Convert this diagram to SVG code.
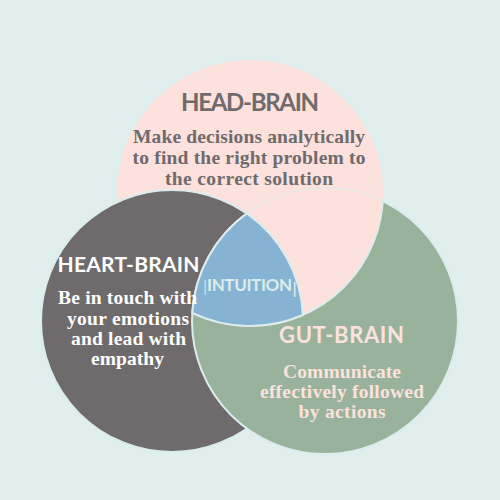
<svg xmlns="http://www.w3.org/2000/svg" width="500" height="500" viewBox="0 0 500 500">
  <style>
    .h { font-family: "Lato", "Liberation Sans", sans-serif; font-weight: 700; text-anchor: middle; }
    .b { font-family: "Liberation Serif", serif; font-weight: 700; text-anchor: middle; font-size: 19.5px; }
    .dark { fill: #6f6b6c; }
    .white { fill: #ffffff; }
    .pinkt { fill: #fbe2de; }
    .edge { stroke: #dcecec; stroke-width: 2; }
  </style>
  <defs>
    <clipPath id="gutClip">
      <circle cx="325" cy="321" r="133"/>
    </clipPath>
  </defs>
  <rect width="500" height="500" fill="#e0eeee"/>
  <g id="head">
    <circle cx="250" cy="193" r="133" fill="#fce1dd"/>
  </g>
  <g id="heart">
    <circle cx="172" cy="321" r="131" fill="#6f6b6c" class="edge"/>
  </g>
  <g id="gut">
    <circle cx="325" cy="321" r="133" fill="#99b29b" class="edge"/>
    <circle cx="250" cy="193" r="133" fill="#fce1dd" class="edge" clip-path="url(#gutClip)"/>
  </g>
  <g id="intuition">
    <path d="M246.8,213.4 A133,133 0 0 0 192.25,312.8 A133,133 0 0 0 302.9,315 A131,131 0 0 0 246.8,213.4 Z" fill="#86b3d3" class="edge"/>
    <text class="h" x="249.5" y="291" font-size="17" fill="#dcecec" textLength="85">INTUITION</text>
    <text x="205" y="292" font-family="Liberation Sans, sans-serif" font-size="16" fill="#c9dbe3" text-anchor="middle">|</text>
    <text x="294.5" y="294" font-family="Liberation Sans, sans-serif" font-size="16" fill="#e6eef0" text-anchor="middle">|</text>
  </g>
  <g id="head-text">
    <text class="h dark" x="250" y="111" font-size="24" textLength="138">HEAD-BRAIN</text>
    <text class="b dark" x="249" y="143" textLength="232">Make decisions analytically</text>
    <text class="b dark" x="249" y="164" textLength="233">to find the right problem to</text>
    <text class="b dark" x="249" y="185" textLength="168">the correct solution</text>
  </g>
  <g id="heart-text">
    <text class="h white" x="128.5" y="272" font-size="21" textLength="142">HEART-BRAIN</text>
    <text class="b white" x="127.5" y="304" textLength="139">Be in touch with</text>
    <text class="b white" x="128" y="325" textLength="122">your emotions</text>
    <text class="b white" x="128.5" y="345" textLength="115">and lead with</text>
    <text class="b white" x="127.5" y="365" textLength="73">empathy</text>
  </g>
  <g id="gut-text">
    <text class="h pinkt" x="341.5" y="343" font-size="22" textLength="125">GUT-BRAIN</text>
    <text class="b pinkt" x="342" y="378" textLength="118">Communicate</text>
    <text class="b pinkt" x="342" y="398" textLength="164">effectively followed</text>
    <text class="b pinkt" x="342" y="418" textLength="87">by actions</text>
  </g>
</svg>
